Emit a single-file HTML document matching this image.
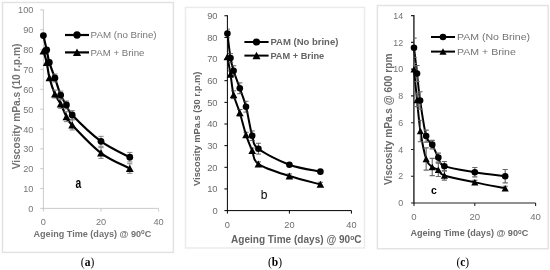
<!DOCTYPE html>
<html><head><meta charset="utf-8"><title>Viscosity vs ageing time</title>
<style>html,body{margin:0;padding:0;background:#fff}svg{display:block}</style></head>
<body>
<svg width="550" height="270" viewBox="0 0 550 270">
<rect width="550" height="270" fill="#fff"/>
<rect x="2.5" y="2.5" width="170.90" height="249.90" fill="#fff" stroke="#e2e2e2" stroke-width="1.5"/>
<path d="M43.4,9.50 V208.80" stroke="#bfbfbf" stroke-width="0.8" fill="none"/>
<path d="M43.4,208.4 H158.6 M40.20,208.40 H43.4 M40.20,188.55 H43.4 M40.20,168.70 H43.4 M40.20,148.85 H43.4 M40.20,129.00 H43.4 M40.20,109.15 H43.4 M40.20,89.30 H43.4 M40.20,69.45 H43.4 M40.20,49.60 H43.4 M40.20,29.75 H43.4 M40.20,9.90 H43.4 M43.40,208.4 V211.60 M101.00,208.4 V211.60 M158.60,208.4 V211.60" stroke="#bfbfbf" stroke-width="0.8" fill="none"/>
<text x="33.4" y="211.9" font-family='"Liberation Sans", sans-serif' font-size="9.2" fill="#767676" text-anchor="end">0</text>
<text x="33.4" y="192.05" font-family='"Liberation Sans", sans-serif' font-size="9.2" fill="#767676" text-anchor="end">10</text>
<text x="33.4" y="172.2" font-family='"Liberation Sans", sans-serif' font-size="9.2" fill="#767676" text-anchor="end">20</text>
<text x="33.4" y="152.35" font-family='"Liberation Sans", sans-serif' font-size="9.2" fill="#767676" text-anchor="end">30</text>
<text x="33.4" y="132.5" font-family='"Liberation Sans", sans-serif' font-size="9.2" fill="#767676" text-anchor="end">40</text>
<text x="33.4" y="112.65" font-family='"Liberation Sans", sans-serif' font-size="9.2" fill="#767676" text-anchor="end">50</text>
<text x="33.4" y="92.8" font-family='"Liberation Sans", sans-serif' font-size="9.2" fill="#767676" text-anchor="end">60</text>
<text x="33.4" y="72.95" font-family='"Liberation Sans", sans-serif' font-size="9.2" fill="#767676" text-anchor="end">70</text>
<text x="33.4" y="53.1" font-family='"Liberation Sans", sans-serif' font-size="9.2" fill="#767676" text-anchor="end">80</text>
<text x="33.4" y="33.25" font-family='"Liberation Sans", sans-serif' font-size="9.2" fill="#767676" text-anchor="end">90</text>
<text x="33.4" y="13.4" font-family='"Liberation Sans", sans-serif' font-size="9.2" fill="#767676" text-anchor="end">100</text>
<text x="43.4" y="225.3" font-family='"Liberation Sans", sans-serif' font-size="9.2" fill="#767676" text-anchor="middle">0</text>
<text x="101.0" y="225.3" font-family='"Liberation Sans", sans-serif' font-size="9.2" fill="#767676" text-anchor="middle">20</text>
<text x="158.6" y="225.3" font-family='"Liberation Sans", sans-serif' font-size="9.2" fill="#767676" text-anchor="middle">40</text>
<text x="33.5" y="236.8" font-family='"Liberation Sans", sans-serif' font-size="9.6" font-weight="bold" fill="#727272" textLength="117.8" lengthAdjust="spacingAndGlyphs">Ageing Time (days) @ 90<tspan font-size="6.34" dy="-2.4">o</tspan><tspan dy="2.4">C</tspan></text>
<text x="19.6" y="169.3" font-family='"Liberation Sans", sans-serif' font-size="10.6" font-weight="bold" fill="#727272" textLength="125.7" lengthAdjust="spacingAndGlyphs" transform="rotate(-90 19.6 169.3)">Viscosity mPa.s (10 r.p.m)</text>
<path d="M43.40,35.61 C43.95,38.00 45.73,45.53 46.71,50.00 C47.70,54.46 47.94,57.74 49.30,62.40 C50.67,67.07 53.02,72.54 54.92,77.99 C56.82,83.43 58.76,90.56 60.68,95.06 C62.60,99.56 64.52,101.66 66.44,104.98 C68.36,108.31 66.44,108.95 72.20,115.01 C77.96,121.06 91.40,134.28 101.00,141.31 C110.60,148.34 125.00,154.54 129.80,157.19" stroke="#000" stroke-width="2.2" fill="none" stroke-linecap="round"/>
<path d="M43.40,50.99 C43.95,52.89 45.70,57.94 46.71,62.40 C47.72,66.87 48.08,72.51 49.45,77.79 C50.82,83.06 53.05,89.70 54.92,94.06 C56.79,98.43 58.76,100.22 60.68,103.99 C62.60,107.76 64.52,113.19 66.44,116.69 C68.36,120.20 66.44,118.98 72.20,125.03 C77.96,131.08 91.40,145.77 101.00,153.02 C110.60,160.26 125.00,165.92 129.80,168.50" stroke="#000" stroke-width="2.2" fill="none" stroke-linecap="round"/>
<clipPath id="cpa"><rect x="43.80" y="0" width="200" height="270"/></clipPath><g clip-path="url(#cpa)">
<path d="M54.92,74.02 V81.96 M52.32,74.02 H57.52 M52.32,81.96 H57.52" stroke="#757575" stroke-width="0.9" fill="none"/>
<path d="M60.68,91.09 V99.03 M58.08,91.09 H63.28 M58.08,99.03 H63.28" stroke="#757575" stroke-width="0.9" fill="none"/>
<path d="M66.44,101.01 V108.95 M63.84,101.01 H69.04 M63.84,108.95 H69.04" stroke="#757575" stroke-width="0.9" fill="none"/>
<path d="M72.20,110.64 V119.37 M69.60,110.64 H74.80 M69.60,119.37 H74.80" stroke="#757575" stroke-width="0.9" fill="none"/>
<path d="M101.00,136.34 V146.27 M98.40,136.34 H103.60 M98.40,146.27 H103.60" stroke="#757575" stroke-width="0.9" fill="none"/>
<path d="M129.80,152.42 V161.95 M127.20,152.42 H132.40 M127.20,161.95 H132.40" stroke="#757575" stroke-width="0.9" fill="none"/>
<path d="M54.92,90.09 V98.03 M52.32,90.09 H57.52 M52.32,98.03 H57.52" stroke="#757575" stroke-width="0.9" fill="none"/>
<path d="M60.68,99.62 V108.36 M58.08,99.62 H63.28 M58.08,108.36 H63.28" stroke="#757575" stroke-width="0.9" fill="none"/>
<path d="M66.44,111.73 V121.66 M63.84,111.73 H69.04 M63.84,121.66 H69.04" stroke="#757575" stroke-width="0.9" fill="none"/>
<path d="M72.20,120.07 V129.99 M69.60,120.07 H74.80 M69.60,129.99 H74.80" stroke="#757575" stroke-width="0.9" fill="none"/>
<path d="M101.00,147.66 V158.38 M98.40,147.66 H103.60 M98.40,158.38 H103.60" stroke="#757575" stroke-width="0.9" fill="none"/>
<path d="M129.80,163.74 V173.27 M127.20,163.74 H132.40 M127.20,173.27 H132.40" stroke="#757575" stroke-width="0.9" fill="none"/>
</g>
<circle cx="43.40" cy="35.61" r="3.4" fill="#000"/>
<circle cx="46.71" cy="50.00" r="3.4" fill="#000"/>
<circle cx="49.30" cy="62.40" r="3.4" fill="#000"/>
<circle cx="54.92" cy="77.99" r="3.4" fill="#000"/>
<circle cx="60.68" cy="95.06" r="3.4" fill="#000"/>
<circle cx="66.44" cy="104.98" r="3.4" fill="#000"/>
<circle cx="72.20" cy="115.01" r="3.4" fill="#000"/>
<circle cx="101.00" cy="141.31" r="3.4" fill="#000"/>
<circle cx="129.80" cy="157.19" r="3.4" fill="#000"/>
<path d="M43.40,47.31 L47.32,54.49 L39.48,54.49 Z" fill="#000"/>
<path d="M46.71,58.73 L50.63,65.90 L42.79,65.90 Z" fill="#000"/>
<path d="M49.45,74.11 L53.37,81.29 L45.53,81.29 Z" fill="#000"/>
<path d="M54.92,90.39 L58.84,97.56 L51.00,97.56 Z" fill="#000"/>
<path d="M60.68,100.31 L64.60,107.49 L56.76,107.49 Z" fill="#000"/>
<path d="M66.44,113.02 L70.36,120.19 L62.52,120.19 Z" fill="#000"/>
<path d="M72.20,121.36 L76.12,128.53 L68.28,128.53 Z" fill="#000"/>
<path d="M101.00,149.34 L104.92,156.52 L97.08,156.52 Z" fill="#000"/>
<path d="M129.80,164.83 L133.72,172.00 L125.88,172.00 Z" fill="#000"/>
<path d="M65,35 H89" stroke="#000" stroke-width="2.2"/>
<circle cx="77.00" cy="35.00" r="3.65" fill="#000"/>
<text x="90.6" y="38.4" font-family='"Liberation Sans", sans-serif' font-size="9.5" fill="#767676" textLength="66" lengthAdjust="spacingAndGlyphs">PAM (no Brine)</text>
<path d="M65,52.4 H89" stroke="#000" stroke-width="2.2"/>
<path d="M77.00,48.57 L81.09,56.05 L72.91,56.05 Z" fill="#000"/>
<text x="90.6" y="55.8" font-family='"Liberation Sans", sans-serif' font-size="9.5" fill="#767676" textLength="53.8" lengthAdjust="spacingAndGlyphs">PAM + Brine</text>
<text x="78.3" y="187.8" font-family='"Liberation Sans", sans-serif' font-size="15" font-weight="bold" fill="#000" text-anchor="middle" textLength="5.7" lengthAdjust="spacingAndGlyphs">a</text>
<text x="87.5" y="266" font-family='"Liberation Serif", serif' font-size="11.5" fill="#000" text-anchor="middle">(<tspan font-weight="bold">a</tspan>)</text>
<rect x="185.5" y="7.4" width="179.00" height="240.60" fill="#fff" stroke="#ebebeb" stroke-width="1.5"/>
<path d="M227.4,15.25 V211.10" stroke="#000" stroke-width="1.0" fill="none"/>
<path d="M227.4,210.6 H351.4 M224.40,210.60 H227.4 M224.40,188.95 H227.4 M224.40,167.30 H227.4 M224.40,145.65 H227.4 M224.40,124.00 H227.4 M224.40,102.35 H227.4 M224.40,80.70 H227.4 M224.40,59.05 H227.4 M224.40,37.40 H227.4 M224.40,15.75 H227.4 M227.40,210.6 V213.60 M289.40,210.6 V213.60 M351.40,210.6 V213.60" stroke="#000" stroke-width="1.0" fill="none"/>
<text x="217.6" y="213.9" font-family='"Liberation Sans", sans-serif' font-size="9.4" fill="#6c6c6c" text-anchor="end">0</text>
<text x="217.6" y="192.25" font-family='"Liberation Sans", sans-serif' font-size="9.4" fill="#6c6c6c" text-anchor="end">10</text>
<text x="217.6" y="170.6" font-family='"Liberation Sans", sans-serif' font-size="9.4" fill="#6c6c6c" text-anchor="end">20</text>
<text x="217.6" y="148.95" font-family='"Liberation Sans", sans-serif' font-size="9.4" fill="#6c6c6c" text-anchor="end">30</text>
<text x="217.6" y="127.3" font-family='"Liberation Sans", sans-serif' font-size="9.4" fill="#6c6c6c" text-anchor="end">40</text>
<text x="217.6" y="105.65" font-family='"Liberation Sans", sans-serif' font-size="9.4" fill="#6c6c6c" text-anchor="end">50</text>
<text x="217.6" y="84.0" font-family='"Liberation Sans", sans-serif' font-size="9.4" fill="#6c6c6c" text-anchor="end">60</text>
<text x="217.6" y="62.35" font-family='"Liberation Sans", sans-serif' font-size="9.4" fill="#6c6c6c" text-anchor="end">70</text>
<text x="217.6" y="40.7" font-family='"Liberation Sans", sans-serif' font-size="9.4" fill="#6c6c6c" text-anchor="end">80</text>
<text x="217.6" y="19.05" font-family='"Liberation Sans", sans-serif' font-size="9.4" fill="#6c6c6c" text-anchor="end">90</text>
<text x="227.4" y="227.7" font-family='"Liberation Sans", sans-serif' font-size="9.2" fill="#6c6c6c" text-anchor="middle">0</text>
<text x="289.4" y="227.7" font-family='"Liberation Sans", sans-serif' font-size="9.2" fill="#6c6c6c" text-anchor="middle">20</text>
<text x="351.4" y="227.7" font-family='"Liberation Sans", sans-serif' font-size="9.2" fill="#6c6c6c" text-anchor="middle">40</text>
<text x="231" y="243" font-family='"Liberation Sans", sans-serif' font-size="10.3" font-weight="bold" fill="#646464" textLength="130.5" lengthAdjust="spacingAndGlyphs">Ageing Time (days) @ 90<tspan font-size="6.80" dy="-3">o</tspan><tspan dy="3">C</tspan></text>
<text x="199.6" y="185.9" font-family='"Liberation Sans", sans-serif' font-size="9.8" font-weight="bold" fill="#646464" textLength="114.3" lengthAdjust="spacingAndGlyphs" transform="rotate(-90 199.6 185.9)">Viscosity mPa.s (30 r.p.m)</text>
<path d="M227.40,33.50 C227.92,37.58 229.47,51.76 230.50,57.97 C231.53,64.17 232.05,65.69 233.60,70.74 C235.15,75.79 237.73,82.29 239.80,88.28 C241.87,94.27 243.93,98.78 246.00,106.68 C248.07,114.58 250.13,128.69 252.20,135.69 C254.27,142.69 252.20,143.85 258.40,148.68 C264.60,153.52 279.07,160.88 289.40,164.70 C299.73,168.53 315.23,170.48 320.40,171.63" stroke="#000" stroke-width="2.0" fill="none" stroke-linecap="round"/>
<path d="M227.40,56.88 C227.92,59.77 229.47,67.89 230.50,74.20 C231.53,80.52 232.05,88.35 233.60,94.77 C235.15,101.20 237.73,106.07 239.80,112.74 C241.87,119.42 243.93,128.51 246.00,134.82 C248.07,141.14 250.13,145.76 252.20,150.63 C254.27,155.50 252.20,159.81 258.40,164.05 C264.60,168.29 279.07,172.68 289.40,176.07 C299.73,179.46 315.23,183.01 320.40,184.40" stroke="#000" stroke-width="2.0" fill="none" stroke-linecap="round"/>
<clipPath id="cpb"><rect x="227.90" y="0" width="200" height="270"/></clipPath><g clip-path="url(#cpb)">
<path d="M227.40,29.17 V37.83 M224.80,29.17 H230.00 M224.80,37.83 H230.00" stroke="#404040" stroke-width="0.8" fill="none"/>
<path d="M230.50,53.64 V62.30 M227.90,53.64 H233.10 M227.90,62.30 H233.10" stroke="#404040" stroke-width="0.8" fill="none"/>
<path d="M233.60,65.76 V75.72 M231.00,65.76 H236.20 M231.00,75.72 H236.20" stroke="#404040" stroke-width="0.8" fill="none"/>
<path d="M239.80,82.86 V93.69 M237.20,82.86 H242.40 M237.20,93.69 H242.40" stroke="#404040" stroke-width="0.8" fill="none"/>
<path d="M246.00,101.27 V112.09 M243.40,101.27 H248.60 M243.40,112.09 H248.60" stroke="#404040" stroke-width="0.8" fill="none"/>
<path d="M252.20,130.93 V140.45 M249.60,130.93 H254.80 M249.60,140.45 H254.80" stroke="#404040" stroke-width="0.8" fill="none"/>
<path d="M258.40,143.27 V154.09 M255.80,143.27 H261.00 M255.80,154.09 H261.00" stroke="#404040" stroke-width="0.8" fill="none"/>
<path d="M227.40,53.64 V60.13 M224.80,53.64 H230.00 M224.80,60.13 H230.00" stroke="#404040" stroke-width="0.8" fill="none"/>
<path d="M230.50,70.96 V77.45 M227.90,70.96 H233.10 M227.90,77.45 H233.10" stroke="#404040" stroke-width="0.8" fill="none"/>
<path d="M233.60,90.88 V98.67 M231.00,90.88 H236.20 M231.00,98.67 H236.20" stroke="#404040" stroke-width="0.8" fill="none"/>
<path d="M239.80,109.49 V115.99 M237.20,109.49 H242.40 M237.20,115.99 H242.40" stroke="#404040" stroke-width="0.8" fill="none"/>
<path d="M246.00,132.23 V137.42 M243.40,132.23 H248.60 M243.40,137.42 H248.60" stroke="#404040" stroke-width="0.8" fill="none"/>
<path d="M252.20,148.03 V153.23 M249.60,148.03 H254.80 M249.60,153.23 H254.80" stroke="#404040" stroke-width="0.8" fill="none"/>
<path d="M258.40,161.89 V166.22 M255.80,161.89 H261.00 M255.80,166.22 H261.00" stroke="#404040" stroke-width="0.8" fill="none"/>
<path d="M289.40,173.90 V178.23 M286.80,173.90 H292.00 M286.80,178.23 H292.00" stroke="#404040" stroke-width="0.8" fill="none"/>
<path d="M320.40,182.24 V186.57 M317.80,182.24 H323.00 M317.80,186.57 H323.00" stroke="#404040" stroke-width="0.8" fill="none"/>
</g>
<circle cx="227.40" cy="33.50" r="3.3" fill="#000"/>
<circle cx="230.50" cy="57.97" r="3.3" fill="#000"/>
<circle cx="233.60" cy="70.74" r="3.3" fill="#000"/>
<circle cx="239.80" cy="88.28" r="3.3" fill="#000"/>
<circle cx="246.00" cy="106.68" r="3.3" fill="#000"/>
<circle cx="252.20" cy="135.69" r="3.3" fill="#000"/>
<circle cx="258.40" cy="148.68" r="3.3" fill="#000"/>
<circle cx="289.40" cy="164.70" r="3.3" fill="#000"/>
<circle cx="320.40" cy="171.63" r="3.3" fill="#000"/>
<path d="M227.40,53.31 L231.21,60.28 L223.59,60.28 Z" fill="#000"/>
<path d="M230.50,70.63 L234.31,77.60 L226.69,77.60 Z" fill="#000"/>
<path d="M233.60,91.20 L237.41,98.17 L229.79,98.17 Z" fill="#000"/>
<path d="M239.80,109.17 L243.61,116.14 L235.99,116.14 Z" fill="#000"/>
<path d="M246.00,131.25 L249.81,138.22 L242.19,138.22 Z" fill="#000"/>
<path d="M252.20,147.06 L256.01,154.03 L248.39,154.03 Z" fill="#000"/>
<path d="M258.40,160.48 L262.21,167.45 L254.59,167.45 Z" fill="#000"/>
<path d="M289.40,172.50 L293.21,179.47 L285.59,179.47 Z" fill="#000"/>
<path d="M320.40,180.83 L324.21,187.80 L316.59,187.80 Z" fill="#000"/>
<path d="M244.4,42 H268.6" stroke="#000" stroke-width="2.0"/>
<circle cx="256.50" cy="42.00" r="3.6" fill="#000"/>
<text x="270.4" y="45.0" font-family='"Liberation Sans", sans-serif' font-size="8.4" font-weight="bold" fill="#646464" textLength="68" lengthAdjust="spacingAndGlyphs">PAM (No brine)</text>
<path d="M244.4,55.6 H268.6" stroke="#000" stroke-width="2.0"/>
<path d="M256.50,51.82 L260.53,59.20 L252.47,59.20 Z" fill="#000"/>
<text x="270.4" y="58.6" font-family='"Liberation Sans", sans-serif' font-size="8.4" font-weight="bold" fill="#646464" textLength="53.8" lengthAdjust="spacingAndGlyphs">PAM + Brine</text>
<text x="264" y="199" font-family='"Liberation Sans", sans-serif' font-size="12" fill="#000" text-anchor="middle">b</text>
<text x="275" y="266.4" font-family='"Liberation Serif", serif' font-size="11.5" fill="#000" text-anchor="middle">(<tspan font-weight="bold">b</tspan>)</text>
<rect x="377.4" y="5.5" width="170.90" height="243.20" fill="#fff" stroke="#e3e3e3" stroke-width="1.5"/>
<path d="M413.9,15.06 V203.55" stroke="#222" stroke-width="1.4" fill="none"/>
<path d="M414,203 H535.6 M411.00,203.00 H414 M411.00,176.23 H414 M411.00,149.46 H414 M411.00,122.69 H414 M411.00,95.92 H414 M411.00,69.15 H414 M411.00,42.38 H414 M411.00,15.61 H414 M414.00,203 V206.00 M474.80,203 V206.00 M535.60,203 V206.00" stroke="#222" stroke-width="1.1" fill="none"/>
<text x="403.1" y="206.15" font-family='"Liberation Sans", sans-serif' font-size="8.9" fill="#737373" text-anchor="end">0</text>
<text x="403.1" y="179.38" font-family='"Liberation Sans", sans-serif' font-size="8.9" fill="#737373" text-anchor="end">2</text>
<text x="403.1" y="152.61" font-family='"Liberation Sans", sans-serif' font-size="8.9" fill="#737373" text-anchor="end">4</text>
<text x="403.1" y="125.84" font-family='"Liberation Sans", sans-serif' font-size="8.9" fill="#737373" text-anchor="end">6</text>
<text x="403.1" y="99.07" font-family='"Liberation Sans", sans-serif' font-size="8.9" fill="#737373" text-anchor="end">8</text>
<text x="403.1" y="72.3" font-family='"Liberation Sans", sans-serif' font-size="8.9" fill="#737373" text-anchor="end">10</text>
<text x="403.1" y="45.53" font-family='"Liberation Sans", sans-serif' font-size="8.9" fill="#737373" text-anchor="end">12</text>
<text x="403.1" y="18.76" font-family='"Liberation Sans", sans-serif' font-size="8.9" fill="#737373" text-anchor="end">14</text>
<text x="414.0" y="219.8" font-family='"Liberation Sans", sans-serif' font-size="9.6" fill="#737373" text-anchor="middle">0</text>
<text x="474.8" y="219.8" font-family='"Liberation Sans", sans-serif' font-size="9.6" fill="#737373" text-anchor="middle">20</text>
<text x="535.6" y="219.8" font-family='"Liberation Sans", sans-serif' font-size="9.6" fill="#737373" text-anchor="middle">40</text>
<text x="410.4" y="236.4" font-family='"Liberation Sans", sans-serif' font-size="9.6" font-weight="bold" fill="#6a6a6a" textLength="117.8" lengthAdjust="spacingAndGlyphs">Ageing Time (days) @ 90<tspan font-size="6.34" dy="-2.4">o</tspan><tspan dy="2.4">C</tspan></text>
<text x="392" y="185" font-family='"Liberation Sans", sans-serif' font-size="10.3" font-weight="bold" fill="#6a6a6a" textLength="131.4" lengthAdjust="spacingAndGlyphs" transform="rotate(-90 392 185)">Viscosity mPa.s @ 600 rpm</text>
<path d="M414.00,47.73 C414.51,52.04 416.03,64.78 417.04,73.57 C418.05,82.36 418.56,90.05 420.08,100.47 C421.60,110.89 424.13,128.71 426.16,136.07 C428.19,143.44 430.21,141.05 432.24,144.64 C434.27,148.23 436.29,154.03 438.32,157.62 C440.35,161.22 438.32,163.76 444.40,166.19 C450.48,168.62 464.67,170.54 474.80,172.21 C484.93,173.89 500.13,175.56 505.20,176.23" stroke="#000" stroke-width="2.0" fill="none" stroke-linecap="round"/>
<path d="M414.00,69.42 C414.51,74.50 415.98,89.67 417.04,99.94 C418.10,110.20 418.86,121.15 420.38,130.99 C421.90,140.83 424.18,152.96 426.16,158.96 C428.14,164.96 430.21,165.19 432.24,166.99 C434.27,168.80 436.29,168.40 438.32,169.81 C440.35,171.21 438.32,173.33 444.40,175.43 C450.48,177.52 464.67,180.25 474.80,182.39 C484.93,184.53 500.13,187.29 505.20,188.28" stroke="#000" stroke-width="2.0" fill="none" stroke-linecap="round"/>
<clipPath id="cpc"><rect x="414.55" y="0" width="200" height="270"/></clipPath><g clip-path="url(#cpc)">
<path d="M414.00,38.10 V57.37 M411.40,38.10 H416.60 M411.40,57.37 H416.60" stroke="#6a6a6a" stroke-width="1.15" fill="none"/>
<path d="M417.04,65.54 V81.60 M414.44,65.54 H419.64 M414.44,81.60 H419.64" stroke="#6a6a6a" stroke-width="1.15" fill="none"/>
<path d="M420.08,91.77 V109.17 M417.48,91.77 H422.68 M417.48,109.17 H422.68" stroke="#6a6a6a" stroke-width="1.15" fill="none"/>
<path d="M426.16,130.05 V142.10 M423.56,130.05 H428.76 M423.56,142.10 H428.76" stroke="#6a6a6a" stroke-width="1.15" fill="none"/>
<path d="M432.24,140.36 V148.92 M429.64,140.36 H434.84 M429.64,148.92 H434.84" stroke="#6a6a6a" stroke-width="1.15" fill="none"/>
<path d="M438.32,153.07 V162.18 M435.72,153.07 H440.92 M435.72,162.18 H440.92" stroke="#6a6a6a" stroke-width="1.15" fill="none"/>
<path d="M444.40,161.51 V170.88 M441.80,161.51 H447.00 M441.80,170.88 H447.00" stroke="#6a6a6a" stroke-width="1.15" fill="none"/>
<path d="M474.80,167.53 V176.90 M472.20,167.53 H477.40 M472.20,176.90 H477.40" stroke="#6a6a6a" stroke-width="1.15" fill="none"/>
<path d="M505.20,169.54 V182.92 M502.60,169.54 H507.80 M502.60,182.92 H507.80" stroke="#6a6a6a" stroke-width="1.15" fill="none"/>
<path d="M414.00,63.39 V75.44 M411.40,63.39 H416.60 M411.40,75.44 H416.60" stroke="#6a6a6a" stroke-width="1.15" fill="none"/>
<path d="M417.04,93.24 V106.63 M414.44,93.24 H419.64 M414.44,106.63 H419.64" stroke="#6a6a6a" stroke-width="1.15" fill="none"/>
<path d="M420.38,120.28 V141.70 M417.78,120.28 H422.98 M417.78,141.70 H422.98" stroke="#6a6a6a" stroke-width="1.15" fill="none"/>
<path d="M426.16,147.85 V170.07 M423.56,147.85 H428.76 M423.56,170.07 H428.76" stroke="#6a6a6a" stroke-width="1.15" fill="none"/>
<path d="M432.24,158.43 V175.56 M429.64,158.43 H434.84 M429.64,175.56 H434.84" stroke="#6a6a6a" stroke-width="1.15" fill="none"/>
<path d="M438.32,163.11 V176.50 M435.72,163.11 H440.92 M435.72,176.50 H440.92" stroke="#6a6a6a" stroke-width="1.15" fill="none"/>
<path d="M444.40,170.74 V180.11 M441.80,170.74 H447.00 M441.80,180.11 H447.00" stroke="#6a6a6a" stroke-width="1.15" fill="none"/>
<path d="M474.80,180.38 V184.39 M472.20,180.38 H477.40 M472.20,184.39 H477.40" stroke="#6a6a6a" stroke-width="1.15" fill="none"/>
<path d="M505.20,186.27 V190.28 M502.60,186.27 H507.80 M502.60,190.28 H507.80" stroke="#6a6a6a" stroke-width="1.15" fill="none"/>
</g>
<circle cx="414.00" cy="47.73" r="3.3" fill="#000"/>
<circle cx="417.04" cy="73.57" r="3.3" fill="#000"/>
<circle cx="420.08" cy="100.47" r="3.3" fill="#000"/>
<circle cx="426.16" cy="136.07" r="3.3" fill="#000"/>
<circle cx="432.24" cy="144.64" r="3.3" fill="#000"/>
<circle cx="438.32" cy="157.62" r="3.3" fill="#000"/>
<circle cx="444.40" cy="166.19" r="3.3" fill="#000"/>
<circle cx="474.80" cy="172.21" r="3.3" fill="#000"/>
<circle cx="505.20" cy="176.23" r="3.3" fill="#000"/>
<path d="M414.00,66.06 L417.58,72.62 L410.42,72.62 Z" fill="#000"/>
<path d="M417.04,96.58 L420.62,103.14 L413.46,103.14 Z" fill="#000"/>
<path d="M420.38,127.63 L423.97,134.19 L416.80,134.19 Z" fill="#000"/>
<path d="M426.16,155.60 L429.74,162.16 L422.58,162.16 Z" fill="#000"/>
<path d="M432.24,163.63 L435.82,170.19 L428.66,170.19 Z" fill="#000"/>
<path d="M438.32,166.45 L441.90,173.01 L434.74,173.01 Z" fill="#000"/>
<path d="M444.40,172.07 L447.98,178.63 L440.82,178.63 Z" fill="#000"/>
<path d="M474.80,179.03 L478.38,185.59 L471.22,185.59 Z" fill="#000"/>
<path d="M505.20,184.92 L508.78,191.48 L501.62,191.48 Z" fill="#000"/>
<path d="M431,37 H455" stroke="#000" stroke-width="2.0"/>
<circle cx="443.00" cy="37.00" r="3.3" fill="#000"/>
<text x="457.0" y="40.4" font-family='"Liberation Sans", sans-serif' font-size="9.5" fill="#737373" textLength="73" lengthAdjust="spacingAndGlyphs">PAM (No Brine)</text>
<path d="M431,51.6 H455" stroke="#000" stroke-width="2.0"/>
<path d="M443.00,48.24 L446.58,54.80 L439.42,54.80 Z" fill="#000"/>
<text x="457.0" y="55.0" font-family='"Liberation Sans", sans-serif' font-size="9.5" fill="#737373" textLength="58.8" lengthAdjust="spacingAndGlyphs">PAM + Brine</text>
<text x="433.9" y="194.4" font-family='"Liberation Sans", sans-serif' font-size="10.5" font-weight="bold" fill="#000" text-anchor="middle">c</text>
<text x="462.8" y="266.4" font-family='"Liberation Serif", serif' font-size="11.5" fill="#000" text-anchor="middle">(<tspan font-weight="bold">c</tspan>)</text>
</svg>
</body></html>
